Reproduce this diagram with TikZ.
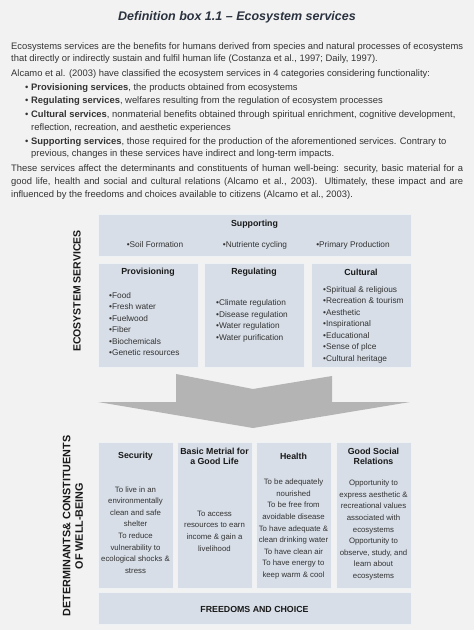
\documentclass[tikz,border=0pt]{standalone}
\usepackage{fontspec}
\setmainfont{Liberation Sans}
\definecolor{bgc}{HTML}{F2F2F2}
\definecolor{boxc}{HTML}{D7DEE7}
\definecolor{txt}{HTML}{333333}
\definecolor{ttl}{HTML}{2B3340}
\definecolor{arrc}{HTML}{B4B4B4}
\begin{document}
\begin{tikzpicture}[x=1pt,y=-1pt,
  body/.style={anchor=base west, inner sep=0, font=\fontsize{9.4}{12}\selectfont, text=txt},
  box/.style={fill=boxc, draw=white!60!boxc, line width=0.6pt, inner sep=0},
  btitle/.style={inner sep=0, font=\fontsize{8.8}{10.2}\selectfont\bfseries, text=black!90, align=center},
  item/.style={inner sep=0, font=\fontsize{8.3}{11.5}\selectfont, text=txt, align=left},
  citem/.style={inner sep=0, font=\fontsize{7.8}{11.6}\selectfont, text=txt, align=center},
  side/.style={inner sep=0, font=\fontsize{10.5}{12}\selectfont\bfseries, text=black!90, rotate=90, align=center}]
\useasboundingbox (0,0) rectangle (474,630);
\fill[bgc] (0,0) rectangle (474,630);

% heading
\node[inner sep=0, font=\fontsize{12.5}{14}\selectfont\bfseries\itshape, text=ttl] (title) at (237,17) {Definition box 1.1 – Ecosystem services};

% body text
\node[body] (l1) at (11,49) {Ecosystems services are the benefits for humans derived from species and natural processes of ecosystems};
\node[body] (l2) at (11,61.5) {that directly or indirectly sustain and fulfil human life (Costanza et al., 1997; Daily, 1997).};
\node[body] (l3) at (11,76) {Alcamo et al. (2003) have classified the ecosystem services in 4 categories considering functionality:};
\node[body] (b1) at (25,90.5) {\makebox[6pt][l]{\textbullet}\textbf{Provisioning services}, the products obtained from ecosystems};
\node[body] (b2) at (25,103.5) {\makebox[6pt][l]{\textbullet}\textbf{Regulating services}, welfares resulting from the regulation of ecosystem processes};
\node[body] (b3) at (25,117.5) {\makebox[6pt][l]{\textbullet}\textbf{Cultural services}, nonmaterial benefits obtained through spiritual enrichment, cognitive development,};
\node[body] (b3b) at (31,130) {reflection, recreation, and aesthetic experiences};
\node[body] (b4) at (25,144) {\makebox[6pt][l]{\textbullet}\textbf{Supporting services}, those required for the production of the aforementioned services. Contrary to};
\node[body] (b4b) at (31,156.5) {previous, changes in these services have indirect and long-term impacts.};
\node[body] (p1) at (11,171) {\makebox[452pt][s]{These services affect the determinants and constituents of human well-being: security, basic material for a}};
\node[body] (p2) at (11,184) {\makebox[452pt][s]{good life, health and social and cultural relations (Alcamo et al., 2003). Ultimately, these impact and are}};
\node[body] (p3) at (11,197) {influenced by the freedoms and choices available to citizens (Alcamo et al., 2003).};

% ecosystem services boxes
\node[box, minimum width=313pt, minimum height=42pt] (sup) at (254.5,235) {};
\node[box, minimum width=100pt, minimum height=104pt] (prov) at (148,315) {};
\node[box, minimum width=100pt, minimum height=104pt] (reg) at (254,315) {};
\node[box, minimum width=100pt, minimum height=104pt] (cult) at (361,315) {};

\node[btitle] (supt) at (254.5,224) {Supporting};
\node[item] (s1) at (155,245) {\textbullet Soil Formation};
\node[item] (s2) at (255,245) {\textbullet Nutriente cycling};
\node[item] (s3) at (353,245) {\textbullet Primary Production};

\node[btitle] (provt) at (148,272) {Provisioning};
\node[btitle] (regt) at (254,272) {Regulating};
\node[btitle] (cultt) at (361,272) {Cultural};

\node[item, anchor=west] (provi) at (109,324) {\textbullet Food\\\textbullet Fresh water\\\textbullet Fuelwood\\\textbullet Fiber\\\textbullet Biochemicals\\\textbullet Genetic resources};
\node[item, anchor=west] (regi) at (216,321) {\textbullet Climate regulation\\\textbullet Disease regulation\\\textbullet Water regulation\\\textbullet Water purification};
\node[item, anchor=west] (culti) at (323,324.5) {\textbullet Spiritual \& religious\\\textbullet Recreation \& tourism\\\textbullet Aesthetic\\\textbullet Inspirational\\\textbullet Educational\\\textbullet Sense of plce\\\textbullet Cultural heritage};

\node[side] (eslab) at (77,291) {ECOSYSTEM SERVICES};

% big arrow
\fill[arrc] (176,374) -- (253,389) -- (332,376) -- (332,402) -- (410,402) -- (253,428) -- (98,402) -- (176,402) -- cycle;

% well-being boxes
\node[box, minimum width=75pt, minimum height=146pt] (sec) at (135.5,515) {};
\node[box, minimum width=75pt, minimum height=146pt] (basic) at (214.5,515) {};
\node[box, minimum width=75pt, minimum height=146pt] (health) at (293.5,515) {};
\node[box, minimum width=75pt, minimum height=146pt] (social) at (373.5,515) {};
\node[box, minimum width=313pt, minimum height=32pt] (free) at (254.5,608) {};

\node[btitle] (sect) at (135.5,456) {Security};
\node[btitle] (basict) at (214.5,456) {Basic Metrial for\\a Good Life};
\node[btitle] (healtht) at (293.5,456) {Health};
\node[btitle] (socialt) at (373.5,456) {Good Social\\Relations};
\node[btitle] (freet) at (254.5,609) {FREEDOMS AND CHOICE};

\node[citem] (seci) at (135.5,530) {To live in an\\environmentally\\clean and safe\\shelter\\To reduce\\vulnerability to\\ecological shocks \&\\stress};
\node[citem] (basici) at (214.5,531) {To access\\resources to earn\\income \& gain a\\livelihood};
\node[citem] (healthi) at (293.5,529) {To be adequately\\nourished\\To be free from\\avoidable disease\\To have adequate \&\\clean drinking water\\To have clean air\\To have energy to\\keep warm \& cool};
\node[citem] (sociali) at (373.5,530) {Opportunity to\\express aesthetic \&\\recreational values\\associated with\\ecosystems\\Opportunity to\\observe, study, and\\learn about\\ecosystems};

\node[side, font=\fontsize{10.8}{12.5}\selectfont\bfseries] (wblab) at (73,526) {DETERMINANTS\& CONSTITUENTS\\OF WELL-BEING};
\end{tikzpicture}
\end{document}
